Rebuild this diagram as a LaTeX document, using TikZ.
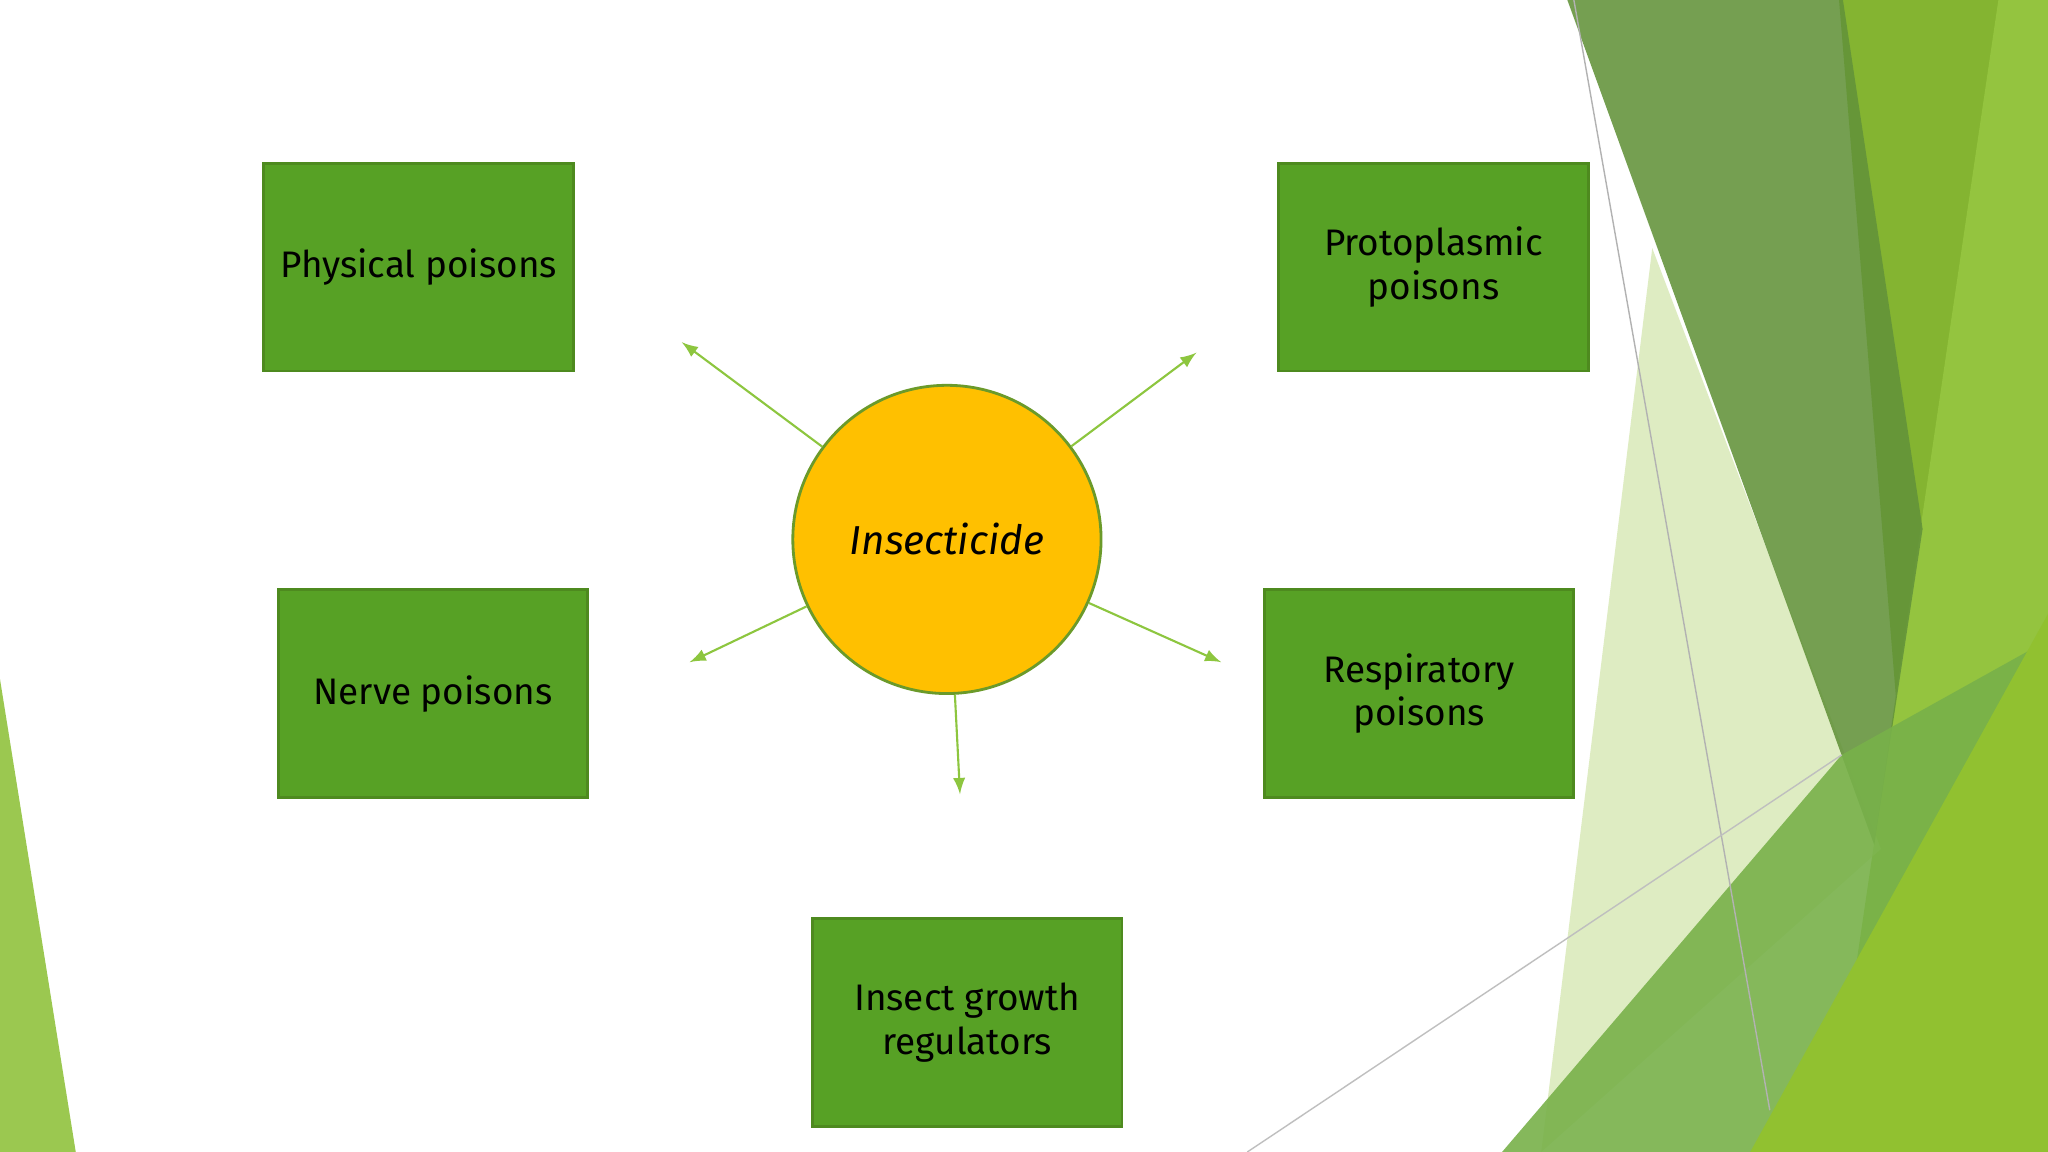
\documentclass[tikz,border=0pt]{standalone}
\usepackage{fontspec}
\setmainfont{Fira Sans}
\begin{document}
\begin{tikzpicture}[x=0.013061cm,y=-0.013061cm,
 box/.style={draw=boxd,fill=boxf,line width=0.8pt,minimum width=237*0.013061cm,minimum height=159*0.013061cm,align=center,font=\fontsize{10.5}{12.5}\selectfont,inner sep=0pt},
 arr/.style={draw=arrc,line width=0.6pt,-latex}]
\definecolor{boxf}{HTML}{57A125}
\definecolor{boxd}{HTML}{4E8A1F}
\definecolor{arrc}{HTML}{8DC63F}
\definecolor{circf}{HTML}{FFC000}
\definecolor{circd}{HTML}{6B9A2A}
\useasboundingbox (0,0) rectangle (1568,882);
\fill[white] (0,0) rectangle (1568,882);
% background facets
\fill[fill={rgb,255:red,132;green,180;blue,49}] (1408,0)--(1568,0)--(1568,882)--(1480,882)--cycle;
\fill[fill={rgb,255:red,148;green,196;blue,63}] (1530,0)--(1568,0)--(1568,882)--(1400,882)--cycle;
\fill[fill={rgb,255:red,201;green,224;blue,154},opacity=0.6] (1265,190)--(1440,650)--(1180,882)--cycle;
\fill[fill={rgb,255:red,98;green,146;blue,58},opacity=0.88] (1200,0)--(1411,0)--(1472,405)--(1435,647)--cycle;
\fill[fill={rgb,255:red,120;green,177;blue,74},opacity=0.9] (1150,882)--(1410,578)--(1568,490)--(1568,882)--cycle;
\fill[fill={rgb,255:red,145;green,193;blue,48}] (1340,882)--(1568,470)--(1568,882)--cycle;
\fill[fill={rgb,255:red,155;green,200;blue,80}] (0,520)--(58,882)--(0,882)--cycle;
\draw[gray!60,line width=0.4pt] (1205,0)--(1355,850);
\draw[gray!50,line width=0.4pt] (955,882)--(1410,578);
% nodes
\node[box] (phys) at (320.5,204.5) {Physical poisons};
\node[box] (proto) at (1097.5,204.5) {Protoplasmic\\poisons};
\node[box] (nerve) at (331.5,531) {Nerve poisons};
\node[box] (resp) at (1086.5,531) {Respiratory\\poisons};
\node[box] (igr) at (740.5,783) {Insect growth\\regulators};
\node[circle,draw=circd,fill=circf,line width=0.8pt,minimum size=236*0.013061cm,font=\fontsize{11.5}{13}\selectfont\itshape] (ins) at (725,413) {Insecticide};
\coordinate (a1) at (522,262);
\coordinate (a2) at (916,270);
\coordinate (a3) at (528,507);
\coordinate (a4) at (935,507);
\coordinate (a5) at (735,608);
\foreach \p in {a1,a2,a3,a4,a5} \draw[arr] (ins) -- (\p);
\end{tikzpicture}
\end{document}
